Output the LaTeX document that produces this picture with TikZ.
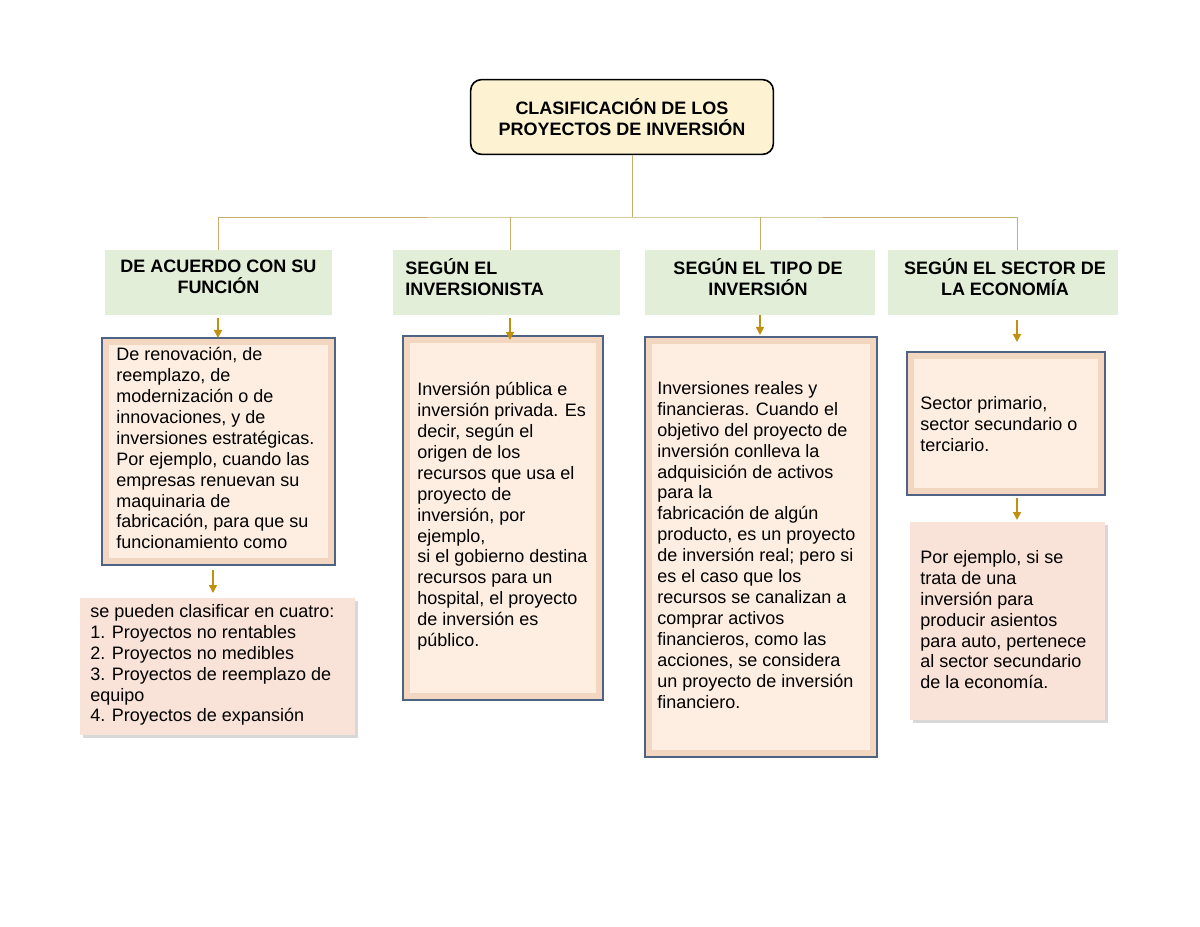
\documentclass[tikz,border=0pt]{standalone}
\usepackage{fontspec}
\setmainfont{Liberation Sans}
\usetikzlibrary{arrows.meta,shadows}
\definecolor{tan}{HTML}{C8AE6A}
\definecolor{gold}{HTML}{C09010}
\definecolor{hdr}{HTML}{E3EED9}
\definecolor{ttl}{HTML}{FDF3D2}
\definecolor{bev}{HTML}{F3D6BF}
\definecolor{bin}{HTML}{FDEEE1}
\definecolor{bfr}{HTML}{4E6283}
\definecolor{pch}{HTML}{F9E2D7}
\tikzset{
 px/.style={x=0.75pt,y=-0.75pt},
 hdrbox/.style={fill=hdr,font=\bfseries\fontsize{13.5}{15.7}\selectfont,align=center,inner sep=0pt},
 txt/.style={anchor=north west,align=left,inner sep=0pt,font=\fontsize{13.5}{15.7}\selectfont},
 conn/.style={draw=tan,line width=0.7pt},
 arr/.style={draw=gold,line width=1.2pt,-{Triangle[width=6pt,length=6pt]}},
 pchbox/.style={fill=pch,drop shadow={shadow xshift=2pt,shadow yshift=-2pt,opacity=0.3}},
}
\newcommand{\bevbox}[5]{% x1 y1 x2 y2 name
 \fill[bev,draw=bfr,line width=1pt] (#1,#2) rectangle (#3,#4);
 \fill[bin] (#1+7,#2+7) rectangle (#3-7,#4-7);
 \coordinate (#5) at ({(#1+#3)/2},#2);
}
\begin{document}
\begin{tikzpicture}[px]
\useasboundingbox (0,0) rectangle (1200,927);
\fill[white] (0,0) rectangle (1200,927);
% title
\node[draw=black,line width=1.2pt,rounded corners=8pt,fill=ttl,minimum width=227pt,minimum height=56pt,align=center,font=\bfseries\fontsize{13.5}{15.7}\selectfont] (title) at (622,117) {CLASIFICACIÓN DE LOS\\PROYECTOS DE INVERSIÓN};
% headers
\fill[hdr] (105,250) rectangle (332,315); \node[hdrbox] (h1) at (218.5,277) {DE ACUERDO CON SU\\FUNCIÓN};
\fill[hdr] (393,250) rectangle (620,315); \node[hdrbox,anchor=west,align=left] (h2) at (405,277) {SEGÚN EL\\INVERSIONISTA};
\fill[hdr] (645,250) rectangle (875,315); \node[hdrbox] (h3) at (758,277) {SEGÚN EL TIPO DE\\INVERSIÓN};
\fill[hdr] (888,250) rectangle (1118,315); \node[hdrbox] (h4) at (1005,277) {SEGÚN EL SECTOR DE\\LA ECONOMÍA};
\coordinate (jt) at (632,155); \coordinate (jm) at (632,217);
\coordinate (t1) at (218,250); \coordinate (t2) at (510,250); \coordinate (t3) at (760,250); \coordinate (t4) at (1017,250);
\draw[conn] (jt) -- (jm);
\draw[conn] (t1) |- (jm) -| (t4);
\draw[conn] (t2) -- (t2|-jm); \draw[conn] (t3) -- (t3|-jm);
% boxes
\bevbox{102}{338}{335}{565}{b1}
\bevbox{403}{336}{603}{700}{b2}
\bevbox{645}{337}{877}{757}{b3}
\bevbox{907}{352}{1105}{495}{b4}
\fill[pchbox] (80,598) rectangle (355,735); \coordinate (b1b) at (213,598);
\fill[pchbox] (910,522) rectangle (1105,720); \coordinate (b4b) at (1017,522);
\coordinate (a1) at (218,318); \coordinate (a2) at (510,318); \coordinate (a3) at (760,315); \coordinate (a4) at (1017,320);
\draw[arr] (a1) -- (218,338);
\draw[arr] (a2) -- (510,340);
\draw[arr] (a3) -- (760,335);
\draw[arr] (a4) -- (1017,342);
\coordinate (a5) at (213,570); \coordinate (a6) at (1017,498);
\draw[arr] (a5) -- (213,593);
\draw[arr] (a6) -- (1017,520);
% texts
\node[txt] (x1) at (116,347) {De renovación, de\\reemplazo, de\\modernización o de\\innovaciones, y de\\inversiones estratégicas.\\Por ejemplo, cuando las\\empresas renuevan su\\maquinaria de\\fabricación, para que su\\funcionamiento como};
\node[txt] (x1b) at (90,604) {se pueden clasificar en cuatro:\\1. Proyectos no rentables\\2. Proyectos no medibles\\3. Proyectos de reemplazo de\\equipo\\4. Proyectos de expansión};
\node[txt] (x2) at (417,382) {Inversión pública e\\inversión privada. Es\\decir, según el\\origen de los\\recursos que usa el\\proyecto de\\inversión, por\\ejemplo,\\si el gobierno destina\\recursos para un\\hospital, el proyecto\\de inversión es\\público.};
\node[txt] (x3) at (657,381) {Inversiones reales y\\financieras. Cuando el\\objetivo del proyecto de\\inversión conlleva la\\adquisición de activos\\para la\\fabricación de algún\\producto, es un proyecto\\de inversión real; pero si\\es el caso que los\\recursos se canalizan a\\comprar activos\\financieros, como las\\acciones, se considera\\un proyecto de inversión\\financiero.};
\node[txt] (x4) at (920,396) {Sector primario,\\sector secundario o\\terciario.};
\node[txt] (x4b) at (920,550) {Por ejemplo, si se\\trata de una\\inversión para\\producir asientos\\para auto, pertenece\\al sector secundario\\de la economía.};
\end{tikzpicture}
\end{document}
